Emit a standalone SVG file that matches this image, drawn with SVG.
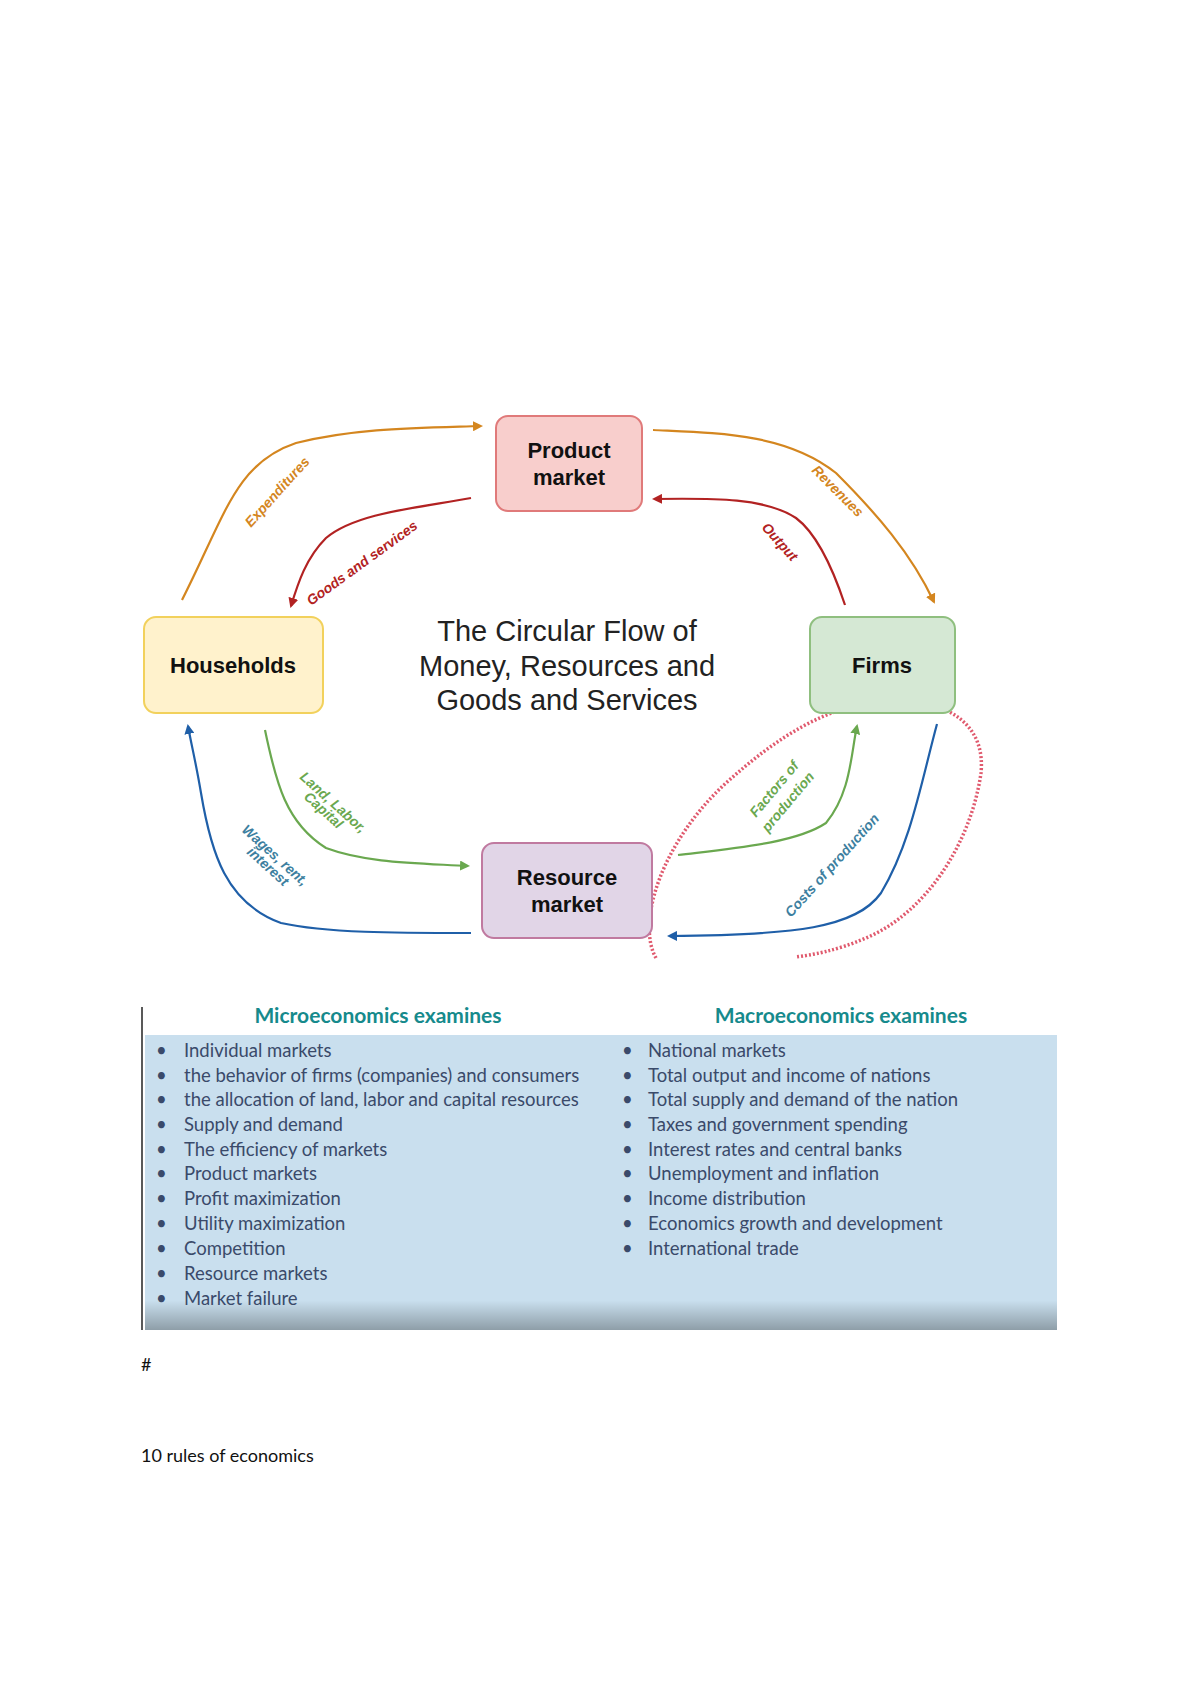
<svg xmlns="http://www.w3.org/2000/svg" width="1200" height="1698" viewBox="0 0 1200 1698">
<defs>
<style>
.nt{font-family:"Liberation Sans",Arial,sans-serif;font-weight:bold;font-size:22px;fill:#111;text-anchor:middle}
.lb{font-family:"Liberation Sans",Arial,sans-serif;font-weight:bold;font-style:italic;font-size:14px}
.c{fill:none;stroke-width:2.2}
.li{font-family:Lato,"Liberation Sans",sans-serif;font-size:18.5px;fill:#3a4a6a}
.hd{font-family:Lato,"Liberation Sans",sans-serif;font-size:21px;font-weight:bold;fill:#168a8c;text-anchor:middle}
</style>
<marker id="ao" markerWidth="10" markerHeight="10" refX="8" refY="5" orient="auto" markerUnits="userSpaceOnUse"><path d="M0,0 L10,5 L0,10 z" fill="#d4861f"/></marker>
<marker id="ar" markerWidth="10" markerHeight="10" refX="8" refY="5" orient="auto" markerUnits="userSpaceOnUse"><path d="M0,0 L10,5 L0,10 z" fill="#b22222"/></marker>
<marker id="ag" markerWidth="10" markerHeight="10" refX="8" refY="5" orient="auto" markerUnits="userSpaceOnUse"><path d="M0,0 L10,5 L0,10 z" fill="#6aa84f"/></marker>
<marker id="ab" markerWidth="10" markerHeight="10" refX="8" refY="5" orient="auto" markerUnits="userSpaceOnUse"><path d="M0,0 L10,5 L0,10 z" fill="#1f5fa8"/></marker>
<linearGradient id="gb" x1="0" y1="0" x2="0" y2="1">
<stop offset="0" stop-color="#c9dfee"/><stop offset="0.9" stop-color="#c9dfee"/><stop offset="1" stop-color="#8e9ea8"/>
</linearGradient>
</defs>
<rect width="1200" height="1698" fill="#fff"/>
<g transform="translate(-4,-7)">
<g id="connectors">
<path class="c" stroke="#d4861f" d="M186,607 C230,520 240,470 300,450 C360,435 420,435 485,433" marker-end="url(#ao)"/>
<path class="c" stroke="#d4861f" d="M657,437 C720,440 790,440 840,480 C880,520 915,560 938,609" marker-end="url(#ao)"/>
<path class="c" stroke="#b22222" d="M475,505 C420,515 360,520 330,545 C310,565 302,590 295,613" marker-end="url(#ar)"/>
<path class="c" stroke="#b22222" d="M849,612 C835,570 820,540 800,525 C770,505 720,505 658,506" marker-end="url(#ar)"/>
<path class="c" stroke="#6aa84f" d="M269,737 C280,790 290,830 330,855 C370,870 420,870 472,873" marker-end="url(#ag)"/>
<path class="c" stroke="#6aa84f" d="M682,862 C740,855 800,850 830,830 C855,800 855,760 861,733" marker-end="url(#ag)"/>
<path class="c" stroke="#1f5fa8" d="M475,940 C400,940 330,940 285,930 C230,910 215,860 205,800 C200,770 195,750 192,733" marker-end="url(#ab)"/>
<path class="c" stroke="#1f5fa8" d="M941,731 C925,790 915,850 885,900 C860,935 800,942 673,943" marker-end="url(#ab)"/>
<path fill="none" stroke="#e05a6e" stroke-width="3.5" stroke-dasharray="2,2" d="M660,965 C640,930 665,850 730,790 C780,745 830,712 890,708 C950,705 990,730 985,780 C975,850 930,920 870,945 C840,958 815,962 800,964"/>
</g>
<g id="product-market"><rect x="500" y="423" width="146" height="95" rx="12" fill="#f8cecc" stroke="#e07a7a" stroke-width="2"/>
<text class="nt" x="573" y="465">Product</text><text class="nt" x="573" y="492">market</text></g>
<g id="households"><rect x="148" y="624" width="179" height="96" rx="12" fill="#fff2cc" stroke="#f2d15c" stroke-width="2"/>
<text class="nt" x="237" y="680" font-size="19">Households</text></g>
<g id="firms"><rect x="814" y="624" width="145" height="96" rx="12" fill="#d5e8d4" stroke="#8fbf7f" stroke-width="2"/>
<text class="nt" x="886" y="680">Firms</text></g>
<g id="resource-market"><rect x="486" y="850" width="170" height="95" rx="12" fill="#e1d5e7" stroke="#c07aa0" stroke-width="2"/>
<text class="nt" x="571" y="892">Resource</text><text class="nt" x="571" y="919">market</text></g>
<g id="title" font-family="Liberation Sans,Arial,sans-serif" font-size="29" fill="#222" text-anchor="middle">
<text x="571" y="648">The Circular Flow of</text><text x="571" y="683">Money, Resources and</text><text x="571" y="717">Goods and Services</text></g>
<g id="labels">
<text class="lb" fill="#d4861f" transform="translate(255,535) rotate(-48)">Expenditures</text>
<text class="lb" fill="#d4861f" transform="translate(815,478) rotate(45)">Revenues</text>
<text class="lb" fill="#b22222" transform="translate(315,613) rotate(-36)">Goods and services</text>
<text class="lb" fill="#b22222" transform="translate(765,535) rotate(48)">Output</text>
<text class="lb" fill="#6aa84f" transform="translate(303,785) rotate(42)">Land, Labor,</text>
<text class="lb" fill="#6aa84f" transform="translate(307,805) rotate(42)">Capital</text>
<text class="lb" fill="#6aa84f" transform="translate(760,825) rotate(-50)">Factors of</text>
<text class="lb" fill="#6aa84f" transform="translate(772,840) rotate(-50)">production</text>
<text class="lb" fill="#3d7fa0" transform="translate(245,838) rotate(42)">Wages, rent,</text>
<text class="lb" fill="#3d7fa0" transform="translate(250,860) rotate(42)">interest</text>
<text class="lb" fill="#3d7fa0" transform="translate(795,925) rotate(-48)">Costs of production</text>
</g>
<g id="table">
<line x1="146" y1="1014" x2="146" y2="1337" stroke="#222" stroke-width="1.5"/>
<rect x="149" y="1042" width="912" height="295" fill="url(#gb)"/>
<text class="hd" x="382" y="1030">Microeconomics examines</text>
<text class="hd" x="845" y="1030">Macroeconomics examines</text>
<g class="li">
<text x="160" y="1064">•</text><text x="188" y="1064">Individual markets</text>
<text x="160" y="1089">•</text><text x="188" y="1089">the behavior of firms (companies) and consumers</text>
<text x="160" y="1113">•</text><text x="188" y="1113">the allocation of land, labor and capital resources</text>
<text x="160" y="1138">•</text><text x="188" y="1138">Supply and demand</text>
<text x="160" y="1163">•</text><text x="188" y="1163">The efficiency of markets</text>
<text x="160" y="1187">•</text><text x="188" y="1187">Product markets</text>
<text x="160" y="1212">•</text><text x="188" y="1212">Profit maximization</text>
<text x="160" y="1237">•</text><text x="188" y="1237">Utility maximization</text>
<text x="160" y="1262">•</text><text x="188" y="1262">Competition</text>
<text x="160" y="1287">•</text><text x="188" y="1287">Resource markets</text>
<text x="160" y="1312">•</text><text x="188" y="1312">Market failure</text>
<text x="626" y="1064">•</text><text x="652" y="1064">National markets</text>
<text x="626" y="1089">•</text><text x="652" y="1089">Total output and income of nations</text>
<text x="626" y="1113">•</text><text x="652" y="1113">Total supply and demand of the nation</text>
<text x="626" y="1138">•</text><text x="652" y="1138">Taxes and government spending</text>
<text x="626" y="1163">•</text><text x="652" y="1163">Interest rates and central banks</text>
<text x="626" y="1187">•</text><text x="652" y="1187">Unemployment and inflation</text>
<text x="626" y="1212">•</text><text x="652" y="1212">Income distribution</text>
<text x="626" y="1237">•</text><text x="652" y="1237">Economics growth and development</text>
<text x="626" y="1262">•</text><text x="652" y="1262">International trade</text>
</g></g>
<g id="footer" font-family="Lato,'Liberation Sans',sans-serif" font-size="18" fill="#111">
<text x="145" y="1378">#</text><text x="145" y="1469">10 rules of economics</text></g>
</g>
</svg>
